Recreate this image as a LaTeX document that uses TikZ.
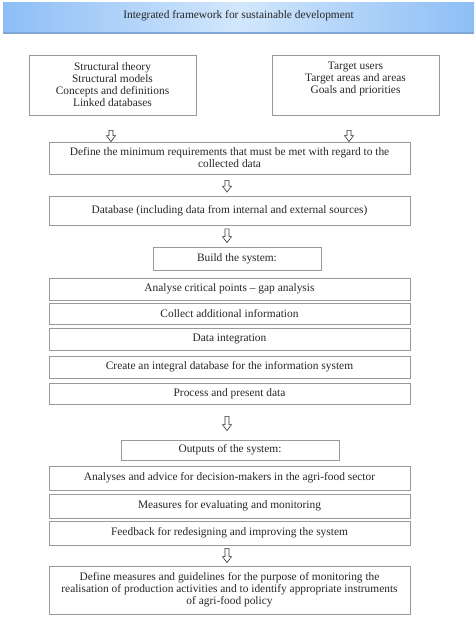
\documentclass[tikz,border=0pt]{standalone}
\usepackage{fontspec}
\setmainfont{Liberation Serif}
\usetikzlibrary{calc}

\definecolor{boxline}{HTML}{9A9A9A}
\definecolor{barside}{HTML}{8DBEF6}
\definecolor{barmid}{HTML}{D2E7FC}
\definecolor{barshadow}{HTML}{7FA7D6}

\tikzset{
  box/.style={draw=boxline, line width=0.8pt, align=center, inner sep=1pt,
    text=black!85, font=\fontsize{11.4}{12}\selectfont},
  hollow/.style={draw=black!80, line width=0.6pt, fill=white,
    to path={let \p1=(\tikztostart), \p2=(\tikztotarget) in
      (\x1-2pt,\y1) -- (\x1-2pt,\y2+6pt) -- (\x1-4.5pt,\y2+6pt) -- (\x1,\y2)
      -- (\x1+4.5pt,\y2+6pt) -- (\x1+2pt,\y2+6pt) -- (\x1+2pt,\y1) -- cycle}}
}

\begin{document}
\begin{tikzpicture}[x=1pt, y=-1pt]
    \useasboundingbox (0,0) rectangle (474,620);

    % The blue bar at the top
    \fill[barshadow] (3,5) rectangle (474,34);
    \shade[left color=barside, right color=barside, middle color=barmid] (3,3) rectangle (474,32);
    \node[text=black!85, font=\fontsize{11.4}{12}\selectfont] (title) at (238.5,16) {Integrated framework for sustainable development};

    % The two boxes below the bar
    \node[box, minimum width=167, minimum height=60] (theory) at (112.5,85)
        {Structural theory\\Structural models\\Concepts and definitions\\Linked databases};
    \node[box, minimum width=167, minimum height=60, text depth=15pt] (users) at (355.5,85)
        {Target users\\Target areas and areas\\Goals and priorities};

    % The requirements and the database
    \node[box, minimum width=361, minimum height=32] (req) at (229.5,158)
        {Define the minimum requirements that must be met with regard to the\\collected data};
    \node[box, minimum width=361, minimum height=29] (db) at (229.5,211)
        {Database (including data from internal and external sources)};

    % Build the system and its steps
    \node[box, minimum width=168, minimum height=23] (build) at (237,258.5) {Build the system:};
    \node[box, minimum width=361, minimum height=22] (gap) at (229.5,289) {Analyse critical points -- gap analysis};
    \node[box, minimum width=361, minimum height=21] (collect) at (229.5,313.5) {Collect additional information};
    \node[box, minimum width=361, minimum height=22] (integ) at (229.5,339) {Data integration};
    \node[box, minimum width=361, minimum height=22] (integral) at (229.5,367) {Create an integral database for the information system};
    \node[box, minimum width=361, minimum height=21] (present) at (229.5,393.5) {Process and present data};

    % Outputs of the system
    \node[box, minimum width=218, minimum height=20] (outputs) at (230,450) {Outputs of the system:};
    \node[box, minimum width=361, minimum height=24] (advice) at (229.5,478) {Analyses and advice for decision-makers in the agri-food sector};
    \node[box, minimum width=361, minimum height=24] (monitor) at (229.5,506) {Measures for evaluating and monitoring};
    \node[box, minimum width=361, minimum height=24] (feedback) at (229.5,533) {Feedback for redesigning and improving the system};

    % The last box
    \node[box, minimum width=361, minimum height=48] (policy) at (229.5,590)
        {Define measures and guidelines for the purpose of monitoring the\\realisation of production activities and to identify appropriate instruments\\of agri-food policy};

    % The hollow arrows
    \draw[hollow] ([xshift=-1.5,yshift=-15]theory.south) to (req.north);
    \draw[hollow] ([xshift=-6.5,yshift=-15]users.south) to (req.north);
    \draw[hollow] ([xshift=-2.5,yshift=-6]req.south) to ([yshift=4]db.north);
    \draw[hollow] ([xshift=-2.5,yshift=-3]db.south) to ([yshift=4]build.north);
    \draw[hollow] ([xshift=-2.5,yshift=-12]present.south) to ([yshift=9]outputs.north);
    \draw[hollow] ([xshift=-2.5,yshift=-3]feedback.south) to ([yshift=3]policy.north);
\end{tikzpicture}
\end{document}
